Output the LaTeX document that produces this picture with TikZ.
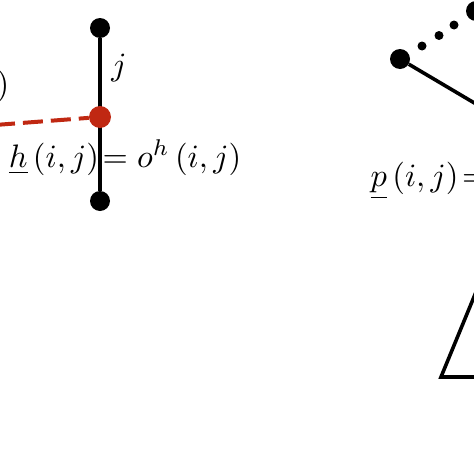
\documentclass[tikz,border=0pt]{standalone}
\usetikzlibrary{calc}
\definecolor{redd}{RGB}{192,40,18}
\begin{document}
\begin{tikzpicture}[x=1pt,y=-1pt,
  dot/.style={circle,fill=black,inner sep=0pt,minimum size=20pt},
  reddot/.style={circle,fill=redd,inner sep=0pt,minimum size=22pt},
  sdot/.style={circle,fill=black,inner sep=0pt,minimum size=9pt},
  edge/.style={line width=3.6pt},
  redline/.style={line width=4pt,draw=redd,dash pattern=on 20pt off 8pt},
  lab/.style={inner sep=0pt,scale=3.25}]
\useasboundingbox (0,0) rectangle (474,474);
% left part
\node[dot] (t) at (100,28) {};
\node[dot] (b) at (100,201) {};
\draw[edge] (t) -- (b);
\node[reddot] (r) at (100,117) {};
\coordinate (rl) at (-5,125);
\draw[redline] (rl) -- (r);
\node[lab,anchor=east] (paren) at (10,86) {$)$};
\node[lab] (jl) at (119,68) {$j$};
\node[lab] (hl) at (125,158) {$\underline{h}\,(i,j)\!=o^h\,(i,j)$};
% right part
\node[dot] (a) at (400,59) {};
\node[dot] (c) at (476,11) {};
\coordinate (e) at (482,107.5);
\draw[edge] (a) -- (e);
\node[sdot] (d1) at (422,46) {};
\node[sdot] (d2) at (439,35.5) {};
\node[sdot] (d3) at (454,25) {};
\node[lab,anchor=west] (pl) at (370,181) {$\underline{p}\,(i,j)\!=$};
% triangle
\coordinate (tv) at (441,377);
\coordinate (tA) at (476,292);
\coordinate (tB) at (480,377);
\draw[edge,line join=miter] (tA) -- (tv) -- (tB);
\end{tikzpicture}
\end{document}
